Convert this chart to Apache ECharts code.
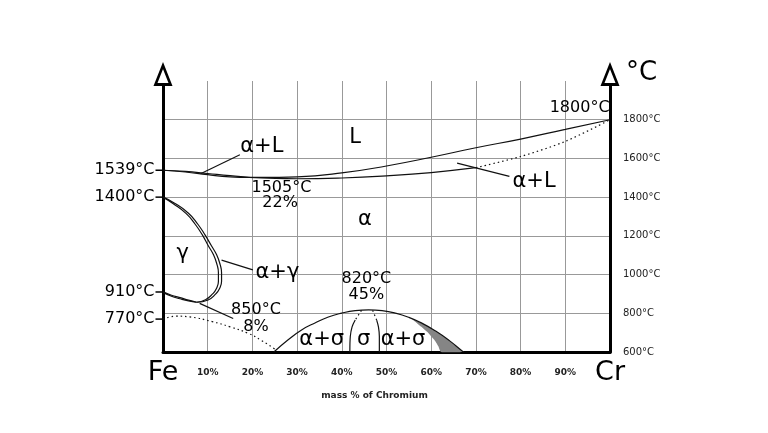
<!DOCTYPE html>
<html><head><meta charset="utf-8">
<script src="https://cdn.jsdelivr.net/npm/echarts@6/dist/echarts.min.js"></script>
<style>html,body{margin:0;padding:0;background:#fff}#c{width:768px;height:433px}</style>
</head><body><div id="c"></div>
<script>
// ---- data (mass % Cr, temperature °C) ----
const rightTicks = [600, 800, 1000, 1200, 1400, 1600, 1800];
const liquidus = [[0,1539],[5,1533],[10,1522],[15,1511],[22,1502],[30,1505],[40,1525],[50,1561],[60,1606],[70,1655],[80,1700],[90,1750],[100,1800]];
const solidus = [[0,1539],[5,1530],[10,1516],[15,1505],[22,1500],[30,1495],[40,1499],[50,1510],[60,1527],[70,1552]];
const solidusDotted = [[70,1552],[80,1610],[90,1688],[100,1800]];
const gammaOuter = [[0,1400],[2.5,1370],[5.7,1317],[7.8,1260],[9.4,1205],[10.8,1150],[12,1102],[12.8,1050],[13.1,1010],[13.1,965],[12.6,925],[11.8,900],[10.1,869],[7.5,857]];
const gammaInner = [[0,1400],[2.3,1366],[5.2,1315],[7.2,1260],[8.8,1205],[10.1,1150],[11.3,1102],[12.1,1050],[12.4,1010],[12.4,965],[11.9,925],[11.1,900],[9.5,870],[7.5,857]];
const gammaLow1 = [[0,911],[1.9,893],[3.8,881],[5.7,868],[7.5,857]];
const gammaLow2 = [[0,908],[1.9,888],[3.8,875],[5.7,864],[7.5,857]];
const curie = [[0,770],[3,785],[6,781],[11,757],[15,730],[19,697],[22,660],[25,615]];
const sigmaArc = [[24.8,600],[28,663],[31,714],[34,750],[37,781],[40,801],[43,814],[46,818],[49,814],[52,801],[55,779],[58,748],[61,708],[64,660],[67,604],[67.3,600]];
const sigmaLeftDotted = [[44.4,815],[43,765]];
const sigmaLeft = [[43,765],[42.3,730],[41.9,680],[41.8,600]];
const sigmaRightDotted = [[46.9,815],[47.8,765]];
const sigmaRight = [[47.8,765],[48.2,730],[48.4,680],[48.4,600]];
const greyOuter = [[55.5,775],[58,748],[61,708],[64,660],[67,604],[67.3,600]];
const greyInner = [[62.2,600],[61.6,630],[60.8,660],[59.4,697],[57.8,730],[55.5,775]];
const leaders = [
  [[8.4,1521],[17.2,1619]],
  [[65.8,1576],[77.5,1507]],
  [[13.1,1075],[20.1,1024]],
  [[8.2,851],[15.7,773]]
];
const phaseLabels = [['L',43,1707],['α+L',22.1,1662],['α+L',83,1481],['α',45.2,1283],['γ',4.4,1110],['α+γ',25.6,1012],['α+σ',35.5,662],['σ',44.9,662],['α+σ',53.7,662]];
const noteLabels = [['1505°C',26.5,1447],['22%',26.2,1369],['850°C',20.8,817],['8%',20.8,731],['820°C',45.5,976],['45%',45.5,895],['1800°C',93.2,1862]];
const leftTempLabels = [1539, 1400, 910, 770];

const FONT = 'DejaVu Sans';
const black = '#000';

function line(data, extra) {
  return Object.assign({
    type: 'line', data: data, showSymbol: false, symbol: 'none', smooth: 0.5,
    lineStyle: { color: '#111', width: 1.2 }, silent: true, animation: false, z: 5
  }, extra || {});
}
const dotted = { color: '#111', width: 1.2, type: [1.5, 3] };

const series = [];
// grey region
series.push({
  type: 'custom', silent: true, animation: false, z: 3,
  renderItem: function (params, api) {
    const pts = greyOuter.concat(greyInner).map(p => api.coord(p));
    return { type: 'polygon', shape: { points: pts, smooth: 0.15 }, style: { fill: '#858585' } };
  },
  data: [0]
});
series.push(line(liquidus));
series.push(line(solidus));
series.push(line(solidusDotted, { smooth: 0.3, lineStyle: dotted }));
series.push(line(gammaOuter));
series.push(line(gammaInner));
series.push(line(gammaLow1));
series.push(line(gammaLow2));
series.push(line(curie, { lineStyle: dotted }));
series.push(line(sigmaArc));
series.push(line(sigmaLeftDotted, { smooth: 0, lineStyle: dotted }));
series.push(line(sigmaLeft, { smooth: 0.3 }));
series.push(line(sigmaRightDotted, { smooth: 0, lineStyle: dotted }));
series.push(line(sigmaRight, { smooth: 0.3 }));
leaders.forEach(l => series.push(line(l, { smooth: 0 })));

// text labels via scatter
function textSeries(items, size) {
  return {
    type: 'scatter', silent: true, animation: false, symbolSize: 0, z: 6,
    itemStyle: { opacity: 1 },
    data: items.map(t => ({ value: [t[1], t[2]], name: t[0] })),
    label: { show: true, position: 'inside', formatter: p => p.name, color: black, fontFamily: FONT, fontSize: size }
  };
}
series.push(textSeries(phaseLabels, 21));
series.push(textSeries(noteLabels, 16));
// left temperature labels with small tick
series.push({
  type: 'scatter', silent: true, animation: false, z: 6, clip: false,
  symbol: 'rect', symbolSize: [7, 1.5], symbolOffset: [-4, 0],
  itemStyle: { color: black, opacity: 1 },
  data: leftTempLabels.map(v => [0, v]),
  label: { show: true, position: 'left', distance: 1, formatter: p => p.value[1] + '°C', color: black, fontFamily: FONT, fontSize: 16 }
});
// axis arrow heads
series.push({
  type: 'scatter', silent: true, animation: false, z: 7, clip: false,
  symbol: 'triangle', symbolSize: [15, 19], symbolOffset: [0, -6],
  itemStyle: { color: '#fff', borderColor: '#000', borderWidth: 2.8, opacity: 1 },
  data: [[0, 2000], [100, 2000]]
});

const option = {
  backgroundColor: '#fff',
  animation: false,
  grid: { left: 163, right: 158, top: 81, bottom: 81, containLabel: false },
  xAxis: {
    type: 'value', min: 0, max: 100, interval: 10,
    axisLine: { show: true, lineStyle: { color: '#000', width: 3 } },
    axisTick: { show: false },
    splitLine: { show: true, lineStyle: { color: '#999', width: 1 } },
    axisLabel: {
      margin: 21, verticalAlign: 'middle', fontFamily: FONT, fontSize: 9, fontWeight: 'bold', color: '#222',
      formatter: v => v === 0 ? '{big|Fe}' : (v === 100 ? '{big|Cr}' : v + '%'),
      rich: { big: { fontSize: 27, fontFamily: FONT, fontWeight: 'normal', color: black } }
    },
    name: 'mass % of Chromium', nameLocation: 'middle', nameGap: 41,
    nameTextStyle: { fontFamily: FONT, fontSize: 9, fontWeight: 'bold', color: '#222', verticalAlign: 'middle', padding: [0, 24, 0, 0] }
  },
  yAxis: [{
    type: 'value', min: 600, max: 2000, interval: 200, position: 'left',
    axisLine: { show: true, lineStyle: { color: '#000', width: 3 } },
    axisTick: { show: false }, axisLabel: { show: false },
    splitLine: { show: true, showMaxLine: false, lineStyle: { color: '#999', width: 1 } }
  }, {
    type: 'value', min: 600, max: 2000, interval: 200, position: 'right',
    axisLine: { show: true, lineStyle: { color: '#000', width: 3 } },
    axisTick: { show: false }, splitLine: { show: false },
    axisLabel: {
      margin: 13, fontFamily: FONT, fontSize: 10, color: '#222',
      formatter: v => rightTicks.indexOf(v) >= 0 ? v + '°C' : ''
    },
    name: '°C', nameLocation: 'end', nameGap: 8,
    nameTextStyle: { fontFamily: FONT, fontSize: 26, color: black, align: 'left', verticalAlign: 'middle', padding: [0, 0, 0, 16] }
  }],
  series: series
};
const chart = echarts.init(document.getElementById('c'), null, { renderer: 'canvas' });
chart.setOption(option);
</script></body></html>
